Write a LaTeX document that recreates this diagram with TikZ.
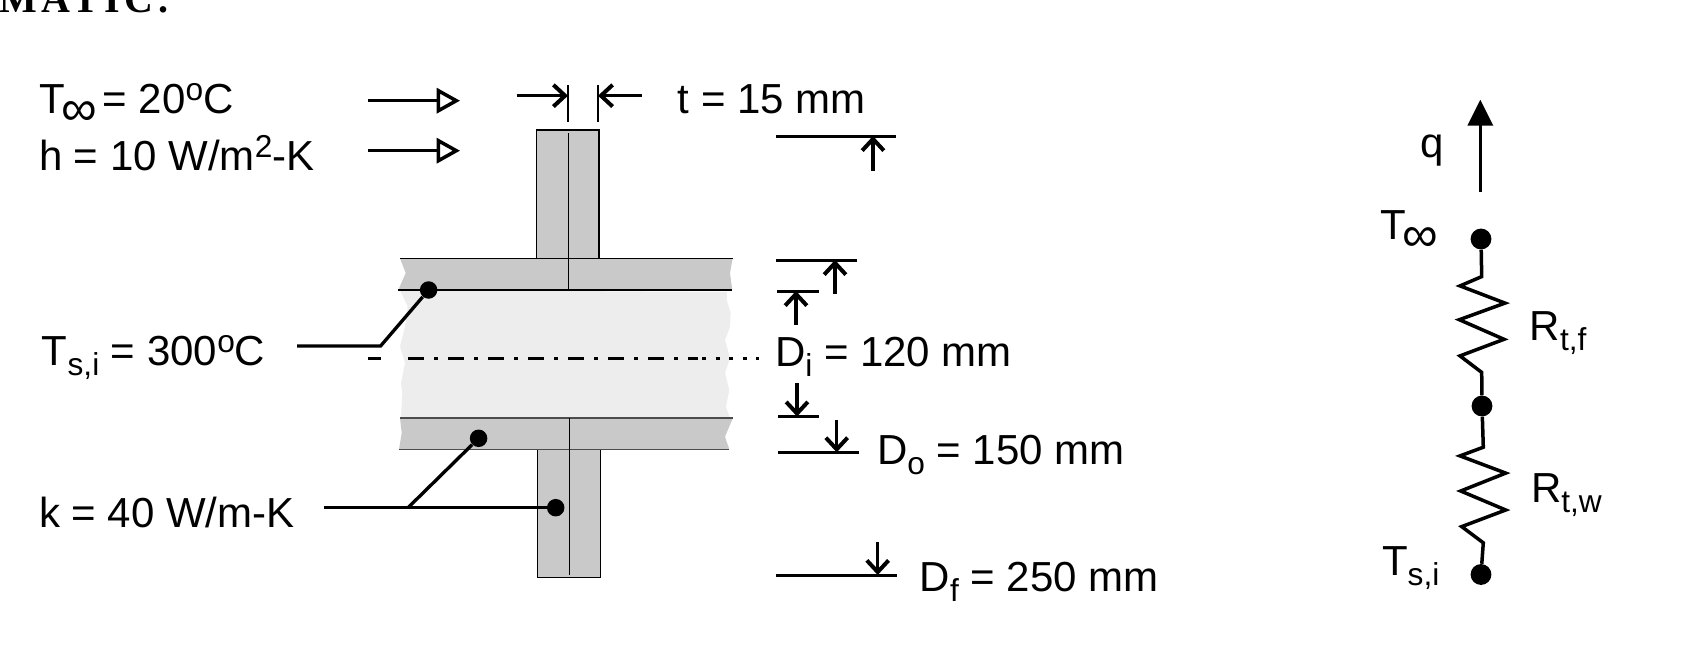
\documentclass[tikz,border=0pt]{standalone}
\usepackage{fontspec}
\newfontfamily\labelfont{Liberation Sans}
\newfontfamily\headfont[LetterSpace=12]{Liberation Serif}
\usetikzlibrary{arrows.meta}
\definecolor{wallgray}{HTML}{C9C9C9}
\definecolor{airgray}{HTML}{EDEDED}
\newcommand{\lowtext}[1]{\raisebox{-0.24em}{\fontsize{19}{20}\selectfont #1}}
\newcommand{\hightext}[1]{\raisebox{0.3em}{\fontsize{19}{20}\selectfont #1}}
\newcommand{\inftext}{\kern-2pt\raisebox{-0.3em}{\fontsize{30}{30}\selectfont\char"221E}\kern-2pt}
\tikzset{
    lab/.style={anchor=base west, inner sep=0pt, outer sep=0pt,
        font=\labelfont\fontsize{25.2}{30}\selectfont},
    leaderdot/.style={circle, fill=black, inner sep=0pt, minimum size=10.5pt},
    netdot/.style={circle, fill=black, inner sep=0pt, minimum size=12.5pt},
    dimline/.style={line width=1.8pt},
    dimarrow/.style={line width=2pt, -{Straight Barb[length=7pt, width=13pt, line width=2.4pt]}},
    flowarrow/.style={line width=1.9pt, -{Triangle[open, fill=white, length=14pt, width=15pt, line width=2.1pt]}},
    solid wall/.style={fill=wallgray, draw=none},
    edgeline/.style={line width=0.7pt},
    leader/.style={line width=2pt},
    netline/.style={line width=2.1pt, line join=miter}
}

\begin{document}
\begin{tikzpicture}[x=0.6pt, y=-0.6pt]

    \useasboundingbox (0,0) rectangle (1683,653);

    %air and walls
    \fill[airgray] (400,290) -- (407.7,306.7) -- (405,326.7) -- (400,346.7) -- (405,363)
        -- (401,383) -- (402.3,393) -- (401,417) -- (730,418) -- (726,407) -- (729.3,390)
        -- (725,373) -- (730,358) -- (725,340) -- (730,327) -- (730.7,313) -- (726.7,300)
        -- (727,292) -- cycle;
    \path[solid wall] (400,258.3) -- (405.7,273) -- (398.3,290) -- (732.3,290) -- (730,273)
        -- (732.7,258.3) -- cycle;
    \path[solid wall] (400,418) -- (401.7,433) -- (399,449.3) -- (729.3,449.3) -- (725,436.7)
        -- (732.7,418.3) -- cycle;

    %fins
    \draw[edgeline, fill=wallgray] (536.6,258.3) -- (536.6,130) -- (599,130) -- (599,258.3);
    \draw[edgeline, fill=wallgray] (537.8,449.5) -- (537.8,577.5) -- (600.5,577.5) -- (600.5,449.5);
    \draw[edgeline] (400,258.3) -- (732.7,258.3);
    \draw[edgeline] (398.3,290) -- (732.3,290);
    \draw[edgeline, black!70] (400,418) -- (732.7,418);
    \draw[edgeline, black!70] (399,449.5) -- (729.3,449.5);
    \draw[edgeline] (568.5,133) -- (568.5,290);
    \draw[edgeline] (569.7,418) -- (569.7,575);

    %centre line
    \coordinate (cl0) at (368,358.3);
    \coordinate (cl1) at (381,358.3);
    \coordinate (cl2) at (408,358.3);
    \coordinate (cl3) at (698,358.3);
    \coordinate (cl4) at (702,358.3);
    \coordinate (cl5) at (759,358.3);
    \draw[dimline] (cl0) -- (cl1);
    \draw[dimline, dash pattern=on 9.6pt off 6pt on 2.4pt off 6pt] (cl2) -- (cl3);
    \draw[dimline, dash pattern=on 2.4pt off 5.7pt] (cl4) -- (cl5);

    %labels on the left
    \node[lab] (tinf) at (39,113) {T\inftext\kern-1.5pt{} = 20\hightext{o}C};
    \node[lab] (h) at (39,170) {h = 10 W/m\hightext{2}-K};
    \node[lab] (tsi) at (42,365) {T\lowtext{s,i} = 300\hightext{o}C};
    \node[lab] (k) at (39,527) {k = 40 W/m-K};
    \node[lab] (t) at (677.7,113) {t = 15 mm};
    \node[lab] (di) at (775,366.5) {D\lowtext{i} = 120 mm};
    \node[lab] (do) at (877,464) {D\lowtext{o} = 150 mm};
    \node[lab] (df) at (919.7,591) {D\lowtext{f} = 250 mm};
    \node[anchor=base west, inner sep=0pt, font=\headfont\bfseries\fontsize{24}{26}\selectfont] (head) at (-1,12.5) {MATIC.};

    %flow arrows
    \coordinate (fa0) at (368,100.7);
    \coordinate (fa1) at (460,100.7);
    \coordinate (fb0) at (368,150.7);
    \coordinate (fb1) at (460,150.7);
    \draw[flowarrow] (fa0) -- (fa1);
    \draw[flowarrow] (fb0) -- (fb1);

    %thickness
    \coordinate (ta0) at (516.5,95.7);
    \coordinate (ta1) at (568,95.7);
    \coordinate (tb0) at (641.5,95.7);
    \coordinate (tb1) at (598,95.7);
    \draw[dimarrow] (ta0) -- (ta1);
    \draw[dimarrow] (tb0) -- (tb1);
    \draw[line width=1.4pt] (568.3,85) -- (568.3,122);
    \draw[line width=1.4pt] (598,85) -- (598,122);

    %diameters
    \draw[dimline] (776,136) -- (896,136);
    \draw[dimline] (776,260) -- (857,260);
    \draw[dimline] (777,291) -- (819,291);
    \draw[dimline] (778,416.5) -- (819,416.5);
    \draw[dimline] (778,452.3) -- (859,452.3);
    \draw[dimline] (776,575) -- (897,575);
    \draw[dimarrow] (873,170.7) -- (873,136);
    \draw[dimarrow] (835,294) -- (835,260);
    \draw[dimarrow] (796,324.5) -- (796,291);
    \draw[dimarrow] (797,383) -- (797,416.5);
    \draw[dimarrow] (836.7,420) -- (836.7,452.3);
    \draw[dimarrow] (877.7,542) -- (877.7,575);

    %leaders
    \node[leaderdot] (wall1) at (428.6,290) {};
    \node[leaderdot] (wall2) at (478.6,438.3) {};
    \node[leaderdot] (fin2) at (555.7,507.7) {};
    \coordinate (lead1) at (297,346);
    \coordinate (bend1) at (380.6,346);
    \coordinate (lead2) at (324,507.7);
    \coordinate (bend2) at (408,507.7);
    \draw[leader] (lead1) -- (bend1) -- (wall1);
    \draw[leader] (lead2) -- (fin2);
    \draw[leader] (bend2) -- (wall2);

    %thermal circuit
    \node[netdot] (ninf) at (1481,239) {};
    \node[netdot] (nmid) at (1482,406) {};
    \node[netdot] (nsi) at (1481,574.5) {};
    \draw[netline] (ninf) -- (1481.7,276.6) -- (1460,285.9) -- (1505,303.1)
        -- (1459.3,319.7) -- (1504,339.3) -- (1460,355.9) -- (1481.7,372.4) -- (nmid);
    \draw[netline] (nmid) -- (1483.3,447.2) -- (1460,455.9) -- (1505.7,473.1)
        -- (1460.7,491) -- (1505.7,510) -- (1461.7,526.6) -- (1483.3,542.8) -- (nsi);

    \coordinate (q0) at (1480.3,192);
    \coordinate (q1) at (1480.3,99.7);
    \draw[leader, -{Triangle[length=15.5pt, width=15pt]}] (q0) -- (q1);

    \node[lab] (q) at (1420,157.6) {q};
    \node[lab] (tinfb) at (1380,239) {T\inftext};
    \node[lab] (rf) at (1529.7,340.3) {R\lowtext{t,f}};
    \node[lab] (rw) at (1531,502.4) {R\lowtext{t,w}};
    \node[lab] (tsib) at (1382,575) {T\lowtext{s,i}};

\end{tikzpicture}
\end{document}
